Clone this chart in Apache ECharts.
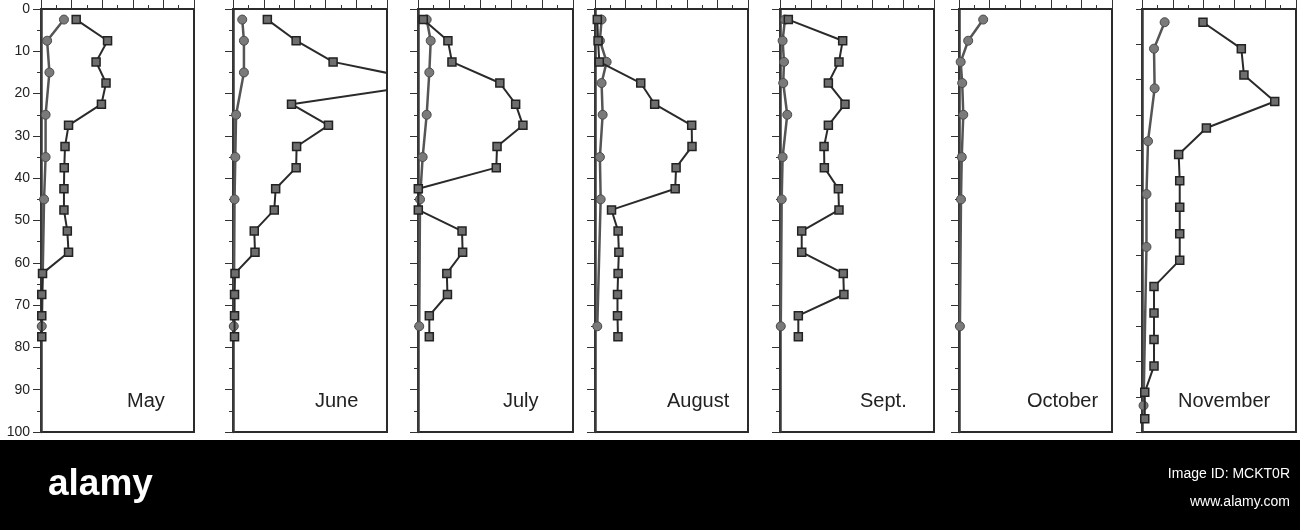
<!DOCTYPE html>
<html><head><meta charset="utf-8">
<script src="https://cdn.jsdelivr.net/npm/echarts/dist/echarts.min.js"></script>
<style>html,body{margin:0;padding:0;background:#fff}#c{width:1300px;height:530px}</style>
</head><body><div id="c"></div><script>
// ---- data ----
const months = ['May', 'June', 'July', 'August', 'Sept.', 'October', 'November'];
const yTickLabels = ['0', '10', '20', '30', '40', '50', '60', '70', '80', '90', '100'];
const squareDepths = [2.5, 7.5, 12.5, 17.5, 22.5, 27.5, 32.5, 37.5, 42.5, 47.5, 52.5, 57.5, 62.5, 67.5, 72.5, 77.5];

const mayCircleDepths = [2.5, 7.5, 15, 25, 35, 45, 75];
const mayCircleValues = [1.5, 0.4, 0.55, 0.3, 0.3, 0.2, 0.05];
const maySquareValues = [2.3, 4.35, 3.6, 4.25, 3.95, 1.8, 1.57, 1.52, 1.5, 1.5, 1.72, 1.8, 0.1, 0.05, 0.05, 0.05];

const juneCircleDepths = [2.5, 7.5, 15, 25, 35, 45, 75];
const juneCircleValues = [0.6, 0.71, 0.71, 0.2, 0.15, 0.1, 0.05];
const juneSquareValues = [2.23, 4.1, 6.5, 13.2, 3.8, 6.2, 4.13, 4.1, 2.77, 2.68, 1.38, 1.43, 0.13, 0.1, 0.1, 0.1];

const julyCircleDepths = [2.5, 7.5, 15, 25, 35, 45, 75];
const julyCircleValues = [0.56, 0.82, 0.73, 0.56, 0.3, 0.13, 0.08];
const julySquareValues = [0.34, 1.93, 2.19, 5.28, 6.3, 6.77, 5.1, 5.05, 0.02, 0.02, 2.84, 2.88, 1.86, 1.9, 0.73, 0.73];

const augCircleDepths = [2.5, 7.5, 12.5, 17.5, 25, 35, 45, 75];
const augCircleValues = [0.43, 0.32, 0.76, 0.43, 0.5, 0.32, 0.37, 0.15];
const augSquareValues = [0.15, 0.2, 0.28, 2.99, 3.9, 6.32, 6.34, 5.3, 5.24, 1.08, 1.51, 1.56, 1.51, 1.47, 1.47, 1.5];

const sepCircleDepths = [2.5, 7.5, 12.5, 17.5, 25, 35, 45, 75];
const sepCircleValues = [0.32, 0.17, 0.26, 0.21, 0.47, 0.17, 0.11, 0.05];
const sepSquareValues = [0.54, 4.07, 3.83, 3.14, 4.22, 3.14, 2.86, 2.88, 3.79, 3.83, 1.41, 1.41, 4.11, 4.15, 1.19, 1.19];

const octCircleDepths = [2.5, 7.5, 12.5, 17.5, 25, 35, 45, 75];
const octCircleValues = [1.58, 0.6, 0.11, 0.21, 0.28, 0.18, 0.13, 0.06];
const octSquareValues = [];

const novCircleDepths = [2.5, 7.5, 15, 25, 35, 45, 75];
const novCircleValues = [1.47, 0.78, 0.82, 0.39, 0.29, 0.29, 0.1];
const novSquareValues = [3.96, 6.45, 6.62, 8.62, 4.18, 2.38, 2.45, 2.45, 2.45, 2.45, 0.78, 0.78, 0.78, 0.78, 0.18, 0.18];

const circleDepths = [mayCircleDepths, juneCircleDepths, julyCircleDepths, augCircleDepths, sepCircleDepths, octCircleDepths, novCircleDepths];
const circleValues = [mayCircleValues, juneCircleValues, julyCircleValues, augCircleValues, sepCircleValues, octCircleValues, novCircleValues];
const squareValues = [maySquareValues, juneSquareValues, julySquareValues, augSquareValues, sepSquareValues, octSquareValues, novSquareValues];
const depthMax = [100, 100, 100, 100, 100, 100, 80];

// ---- layout ----
const panelLeft = [41, 233, 418, 595, 780, 959, 1142];
const panelWidth = [153, 154, 155, 153, 154, 153, 154];
const labelLeft = [127, 315, 503, 667, 860, 1027, 1178];
const FONT = '"Liberation Sans", Arial, Helvetica, sans-serif';

const grids = [], xAxes = [], yAxes = [], series = [], graphics = [];
months.forEach((m, i) => {
  grids.push({left: panelLeft[i], top: 9, width: panelWidth[i], height: 423,
    show: true, borderColor: '#2b2b2b', borderWidth: 2, backgroundColor: '#fff'});
  xAxes.push({gridIndex: i, type: 'value', position: 'top', min: 0, max: 10, interval: 2,
    axisLine: {show: true, onZero: false, lineStyle: {color: '#2b2b2b', width: 2}},
    axisTick: {show: true, inside: false, length: 9, lineStyle: {color: '#333', width: 1}},
    minorTick: {show: true, splitNumber: 2, length: 4, lineStyle: {color: '#333', width: 1}},
    axisLabel: {show: false}, splitLine: {show: false}, minorSplitLine: {show: false}});
  const isNov = depthMax[i] === 80;
  yAxes.push({gridIndex: i, type: 'value', inverse: true, min: 0, max: depthMax[i],
    interval: isNov ? 80 / 12 : 10,
    axisLine: {show: true, onZero: false, lineStyle: {color: '#3a3a3a', width: 2.5}},
    axisTick: {show: true, inside: false, length: isNov ? 6 : 8, lineStyle: {color: '#333', width: 1}},
    minorTick: {show: !isNov, splitNumber: 2, length: 4, lineStyle: {color: '#333', width: 1}},
    axisLabel: {show: i === 0, fontSize: 14, color: '#222', fontFamily: FONT, margin: 11,
      formatter: v => yTickLabels[Math.round(v / 10)]},
    splitLine: {show: false}, minorSplitLine: {show: false}});
  series.push({type: 'line', xAxisIndex: i, yAxisIndex: i, clip: true, silent: true, animation: false,
    data: circleValues[i].map((v, k) => [v, circleDepths[i][k]]),
    symbol: 'circle', symbolSize: 9, showAllSymbol: true, z: 3,
    itemStyle: {color: '#7a7a7a', borderColor: '#4a4a4a', borderWidth: 1},
    lineStyle: {color: '#555', width: 2.5}});
  if (squareValues[i].length) series.push({type: 'line', xAxisIndex: i, yAxisIndex: i, clip: true, silent: true, animation: false,
    data: squareValues[i].map((v, k) => [v, squareDepths[k]]),
    symbol: 'rect', symbolSize: 8, showAllSymbol: true, z: 4,
    itemStyle: {color: '#6e6e6e', borderColor: '#222', borderWidth: 1.5},
    lineStyle: {color: '#2a2a2a', width: 2}});
  graphics.push({type: 'text', left: labelLeft[i], top: 391, z: 10,
    style: {text: m, fontSize: 20, fontFamily: FONT, fill: '#222'}});
});

graphics.push({type: 'rect', left: 0, top: 440, shape: {width: 1300, height: 90}, style: {fill: '#000'}, z: 1});
graphics.push({type: 'text', left: 48, top: 466, z: 2,
  style: {text: 'alamy', fontSize: 37, fontWeight: 'bold', fontFamily: FONT, fill: '#fff'}});
graphics.push({type: 'text', right: 10, top: 467, z: 2,
  style: {text: 'Image ID: MCKT0R', fontSize: 14, fontFamily: FONT, fill: '#fff', align: 'right'}});
graphics.push({type: 'text', right: 10, top: 495, z: 2,
  style: {text: 'www.alamy.com', fontSize: 14, fontFamily: FONT, fill: '#fff', align: 'right'}});

const chart = echarts.init(document.getElementById('c'), null, {renderer: 'canvas'});
chart.setOption({animation: false, backgroundColor: '#fff', grid: grids, xAxis: xAxes, yAxis: yAxes, series: series, graphic: graphics});
</script></body></html>
